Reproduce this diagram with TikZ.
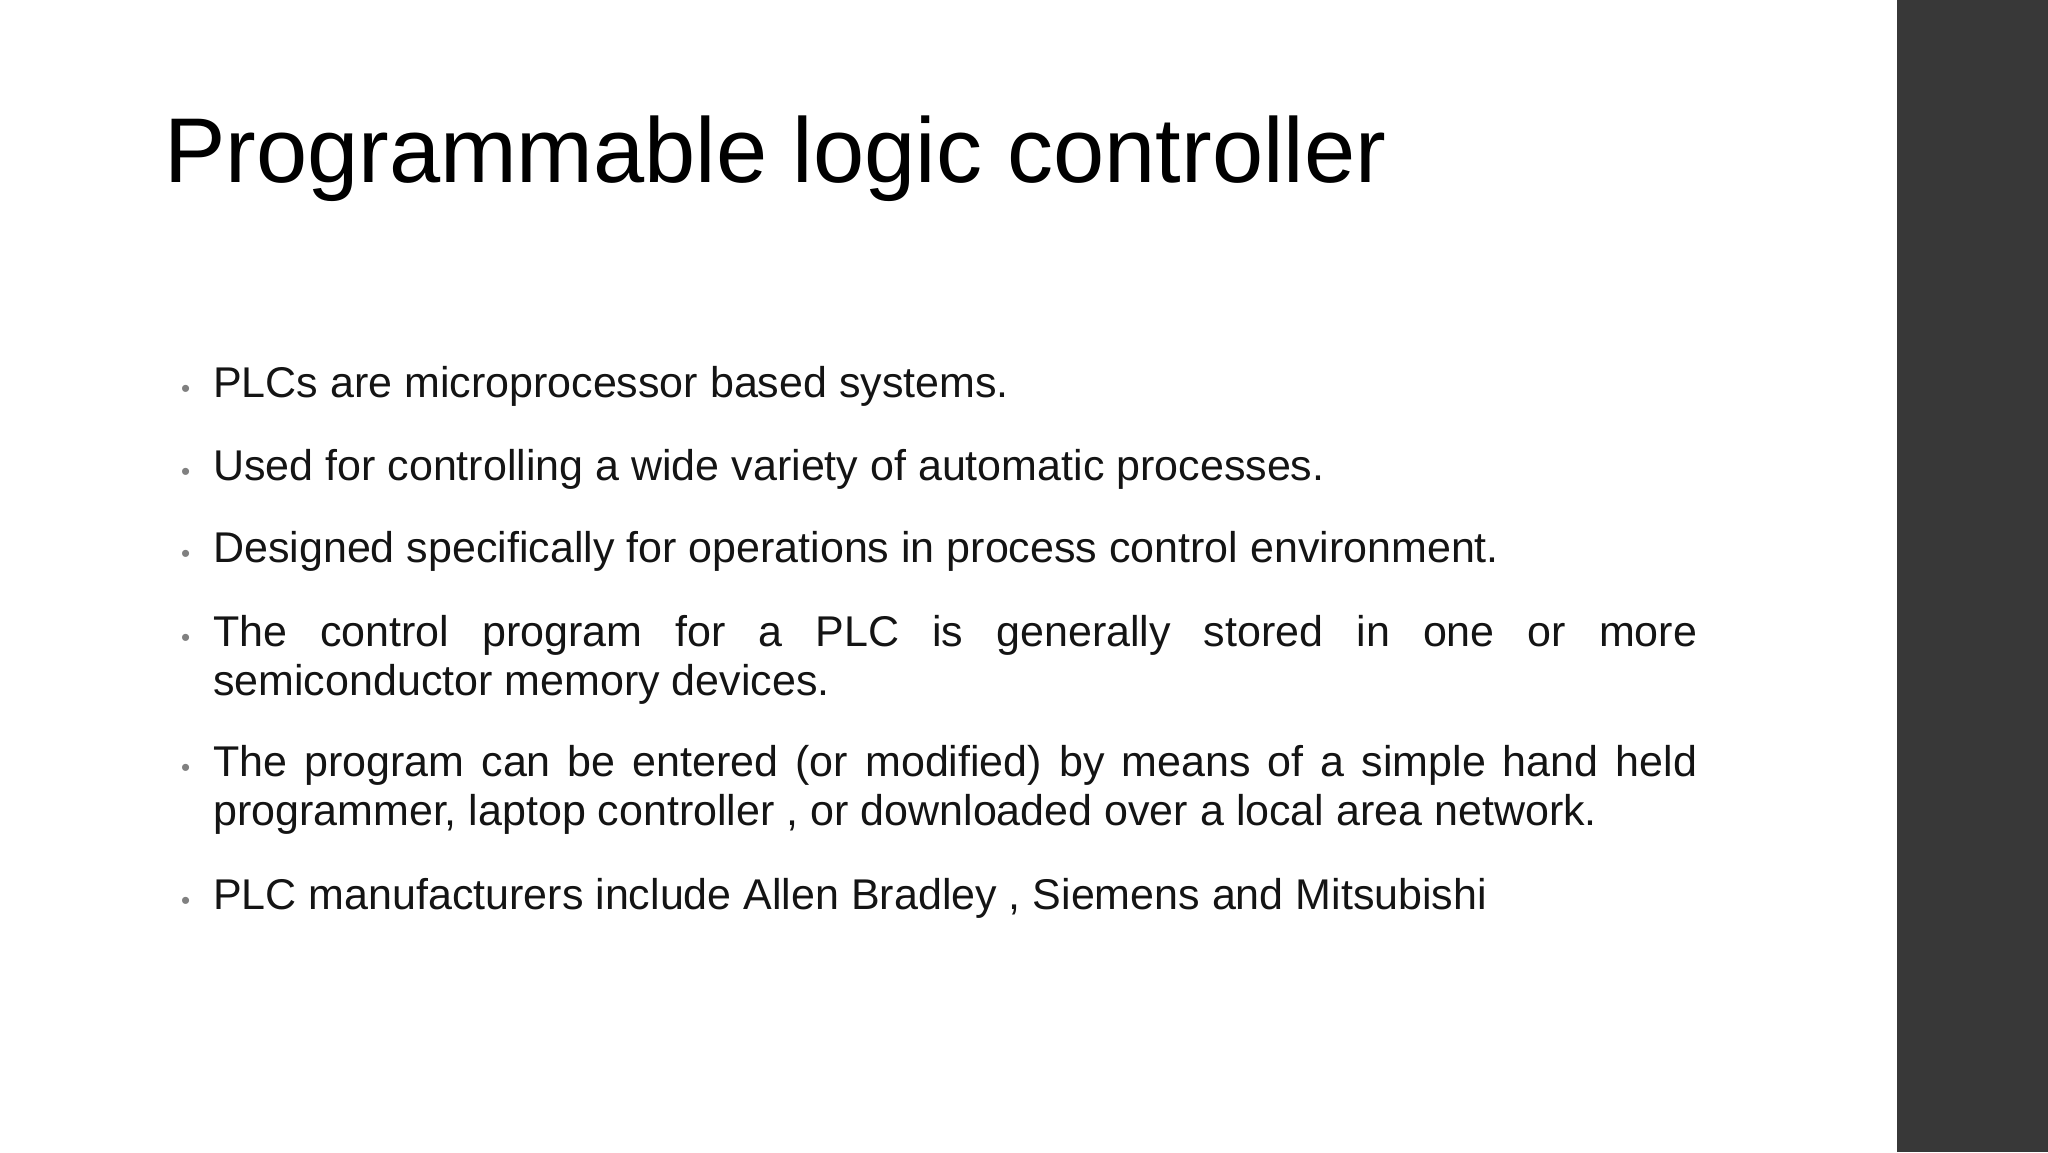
\documentclass[tikz,border=0pt]{standalone}
\usepackage{fontspec}
\setmainfont{Liberation Sans}
\begin{document}
\begin{tikzpicture}[x=1pt,y=1pt,
  body/.style={anchor=base west,inner sep=0pt,font=\fontsize{43}{48.5}\selectfont,text width=1484pt,align=justify,text=black!92},
  bul/.style={anchor=base west,inner sep=0pt,font=\fontsize{26}{30}\selectfont,text=black!50}]
\fill[white] (0,0) rectangle (2048,1152);
\fill[black!78] (1897,0) rectangle (2048,1152);
\node[anchor=base west,inner sep=0pt,font=\fontsize{92}{110}\selectfont] (title) at (164,1152-183) {Programmable logic controller};
\foreach \n/\y in {1/398,2/481,3/563,4/647,5/777,6/909}{
  \node[bul] (b\n) at (181,1152-\y) {•};
}
\node[body] (t1) at (213,1152-398) {PLCs are microprocessor based systems.};
\node[body] (t2) at (213,1152-481) {Used for controlling a wide variety of automatic processes.};
\node[body] (t3) at (213,1152-563) {Designed specifically for operations in process control environment.};
\node[body] (t4) at (213,1152-647) {The control program for a PLC is generally stored in one or more\linebreak semiconductor memory devices.};
\node[body] (t5) at (213,1152-777) {The program can be entered (or modified) by means of a simple hand held programmer, laptop controller , or downloaded over a local area network.};
\node[body] (t6) at (213,1152-909) {PLC manufacturers include Allen Bradley , Siemens and Mitsubishi};
\end{tikzpicture}
\end{document}
